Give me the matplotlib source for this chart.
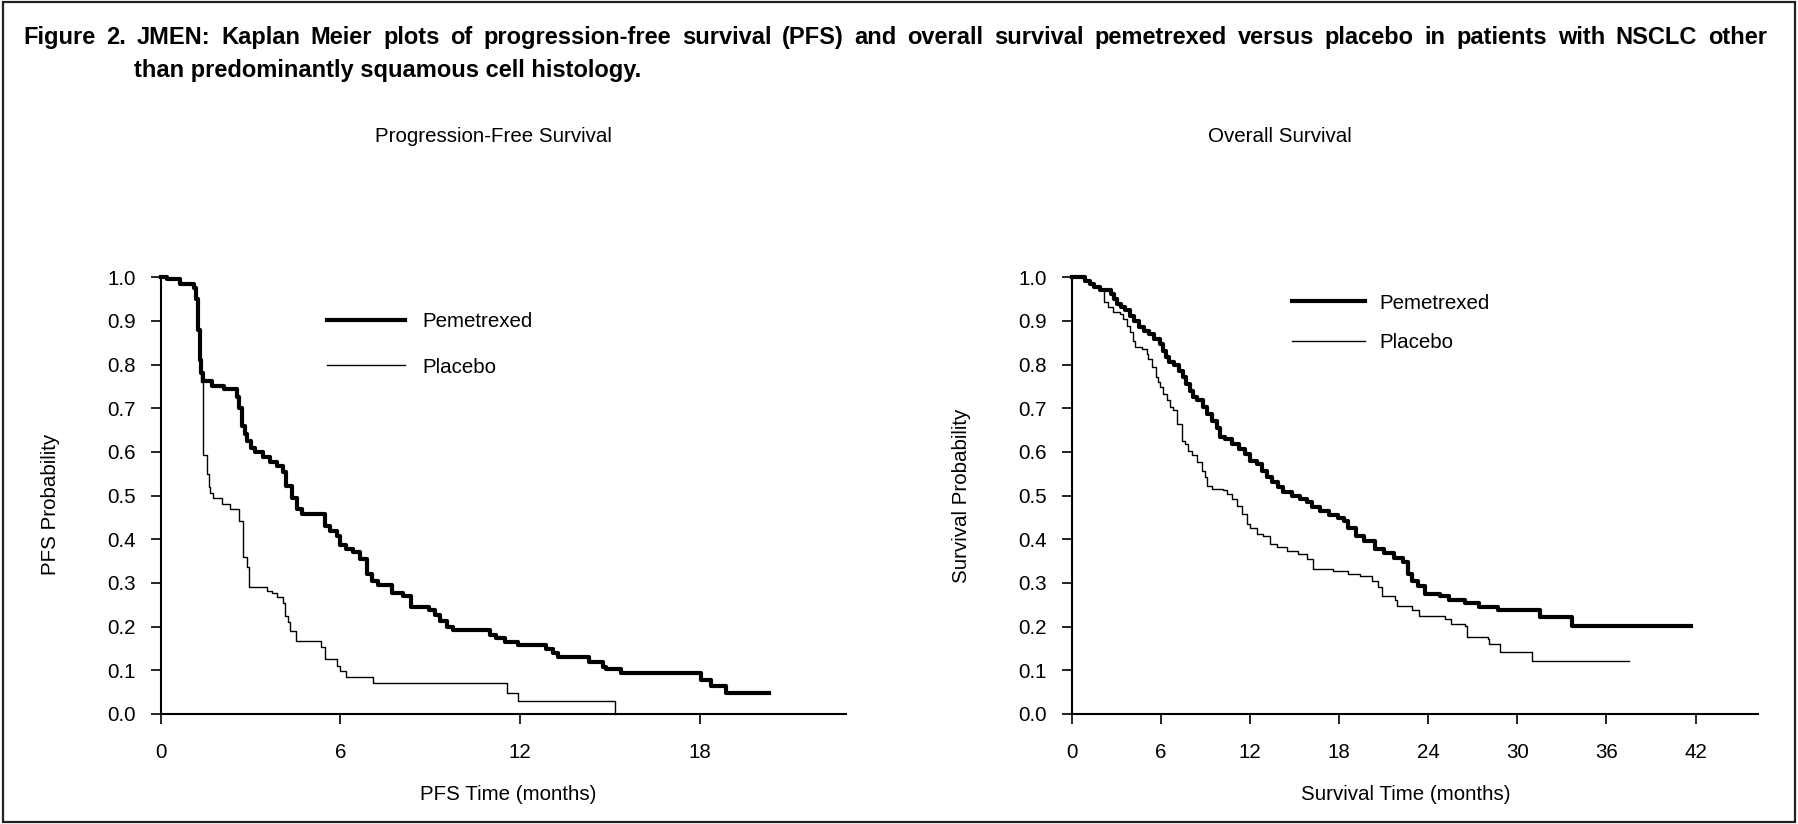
import matplotlib
matplotlib.use("Agg")
import matplotlib.pyplot as plt
from matplotlib.patches import Rectangle

plt.rcParams['font.family'] = ['Liberation Sans', 'DejaVu Sans']

# PFS (months, survival probability) - step changes
pfs_pem_t = [0, 0.2, 0.65, 1.1, 1.18, 1.25, 1.3, 1.35, 1.43, 1.7, 2.1, 2.55, 2.62, 2.7, 2.8,
             2.87, 3.0, 3.15, 3.43, 3.65, 3.87, 4.09, 4.2, 4.37, 4.54, 4.71, 5.48, 5.65, 5.87,
             5.98, 6.2, 6.43, 6.65, 6.87, 7.04, 7.26, 7.71, 8.1, 8.35, 8.95, 9.15, 9.32, 9.55,
             9.76, 10.98, 11.2, 11.48, 11.93, 12.85, 13.09, 13.26, 14.3, 14.76, 14.87, 15.37,
             18.04, 18.37, 18.87, 20.3]
pfs_pem_s = [1.0, 0.995, 0.985, 0.975, 0.95, 0.88, 0.81, 0.78, 0.763, 0.752, 0.744, 0.725, 0.7,
             0.66, 0.64, 0.626, 0.61, 0.6, 0.588, 0.576, 0.569, 0.553, 0.522, 0.494, 0.47, 0.457,
             0.431, 0.42, 0.408, 0.386, 0.378, 0.37, 0.355, 0.32, 0.305, 0.296, 0.278, 0.27,
             0.244, 0.237, 0.226, 0.214, 0.2, 0.192, 0.181, 0.174, 0.166, 0.158, 0.149, 0.14,
             0.13, 0.118, 0.107, 0.103, 0.094, 0.077, 0.064, 0.048, 0.048]

pfs_pbo_t = [0, 0.2, 0.65, 1.1, 1.18, 1.25, 1.3, 1.35, 1.43, 1.54, 1.6, 1.65, 1.76, 2.04, 2.32,
             2.63, 2.76, 2.89, 2.96, 3.54, 3.71, 3.87, 4.09, 4.15, 4.26, 4.32, 4.52, 5.34, 5.48,
             5.87, 5.98, 6.17, 7.09, 11.57, 11.93, 15.15]
pfs_pbo_s = [1.0, 0.995, 0.985, 0.975, 0.95, 0.88, 0.81, 0.76, 0.592, 0.55, 0.52, 0.505, 0.495,
             0.481, 0.469, 0.443, 0.36, 0.336, 0.29, 0.282, 0.276, 0.268, 0.255, 0.225, 0.21,
             0.191, 0.168, 0.153, 0.126, 0.111, 0.099, 0.084, 0.071, 0.048, 0.029, 0.0]

# Overall survival
os_pem_t = [0, 0.9, 1.2, 1.5, 1.9, 2.6, 2.8, 3.0, 3.3, 3.6, 3.9, 4.2, 4.5, 4.85, 5.2, 5.55, 5.9,
            6.15, 6.3, 6.55, 6.9, 7.2, 7.5, 7.7, 7.95, 8.15, 8.45, 8.8, 9.1, 9.45, 9.8, 10.0,
            10.3, 10.8, 11.25, 11.65, 12.0, 12.45, 12.8, 13.15, 13.5, 13.85, 14.2, 14.8, 15.35,
            15.8, 16.2, 16.7, 17.3, 17.9, 18.3, 18.6, 19.1, 19.7, 20.4, 21.0, 21.7, 22.3, 22.6,
            22.9, 23.3, 23.8, 24.8, 25.4, 26.5, 27.4, 28.7, 31.5, 33.7, 41.7]
os_pem_s = [1.0, 0.992, 0.985, 0.977, 0.971, 0.962, 0.95, 0.939, 0.931, 0.924, 0.912, 0.9, 0.885,
            0.878, 0.87, 0.859, 0.847, 0.832, 0.817, 0.805, 0.798, 0.786, 0.771, 0.756, 0.74,
            0.725, 0.718, 0.702, 0.687, 0.672, 0.656, 0.634, 0.63, 0.618, 0.607, 0.595, 0.58,
            0.573, 0.557, 0.542, 0.531, 0.519, 0.508, 0.5, 0.492, 0.485, 0.473, 0.464, 0.456,
            0.448, 0.442, 0.427, 0.408, 0.395, 0.378, 0.368, 0.357, 0.347, 0.321, 0.305, 0.294,
            0.275, 0.271, 0.262, 0.254, 0.244, 0.237, 0.223, 0.202, 0.202]

os_pbo_t = [0, 0.9, 1.2, 1.5, 1.9, 2.15, 2.45, 2.78, 3.23, 3.46, 3.68, 3.91, 4.13, 4.24, 4.69,
            5.03, 5.14, 5.37, 5.66, 5.81, 5.93, 6.15, 6.38, 6.6, 6.83, 7.05, 7.39, 7.61, 7.83,
            8.06, 8.4, 8.73, 8.96, 9.07, 9.41, 10.19, 10.42, 10.75, 11.09, 11.43, 11.76, 11.99,
            12.43, 12.89, 13.33, 13.78, 14.45, 15.24, 15.8, 16.25, 17.6, 18.6, 19.4, 20.2, 20.6,
            20.85, 21.75, 21.86, 22.9, 23.4, 25.1, 25.5, 26.5, 26.6, 28.0, 28.1, 28.8, 31.0, 37.5]
os_pbo_s = [1.0, 0.992, 0.985, 0.977, 0.971, 0.943, 0.931, 0.92, 0.916, 0.905, 0.889, 0.874,
            0.855, 0.84, 0.836, 0.824, 0.813, 0.794, 0.771, 0.76, 0.748, 0.733, 0.718, 0.702,
            0.695, 0.664, 0.626, 0.618, 0.603, 0.592, 0.576, 0.557, 0.542, 0.523, 0.515, 0.513,
            0.504, 0.492, 0.477, 0.458, 0.435, 0.427, 0.412, 0.408, 0.389, 0.382, 0.374, 0.366,
            0.355, 0.331, 0.328, 0.32, 0.316, 0.305, 0.29, 0.271, 0.26, 0.248, 0.237, 0.225,
            0.218, 0.206, 0.202, 0.176, 0.172, 0.16, 0.141, 0.122, 0.122]

prob_ticks = [0.0, 0.1, 0.2, 0.3, 0.4, 0.5, 0.6, 0.7, 0.8, 0.9, 1.0]
pfs_month_ticks = [0, 6, 12, 18]
os_month_ticks = [0, 6, 12, 18, 24, 30, 36, 42]

title_line1 = ("Figure 2. JMEN: Kaplan Meier plots of progression-free survival (PFS) and "
               "overall survival pemetrexed versus placebo in patients with NSCLC other")
title_line2 = "than predominantly squamous cell histology."

FS = 14.8
TFS = 17.0
W, H = 1798, 824

fig = plt.figure(figsize=(W / 100, H / 100), dpi=100)
fig.patch.set_facecolor('white')

# first title line is justified across the full width (word by word)
renderer = fig.canvas.get_renderer()
words = title_line1.split()
word_txt = [fig.text(0, 0.954, w, fontsize=TFS, fontweight='bold', ha='left', va='center')
            for w in words]
widths = [t.get_window_extent(renderer).width for t in word_txt]
gap = (1744 - sum(widths)) / (len(words) - 1)
xpos = 23.0
for t, wd in zip(word_txt, widths):
    t.set_x(xpos / W)
    xpos += wd + gap
fig.text(134 / W, 0.915, title_line2, fontsize=TFS, fontweight='bold', ha='left', va='center')

ax1 = fig.add_axes([0.0893, 0.1335, 0.381, 0.530])
ax2 = fig.add_axes([0.5962, 0.1335, 0.3815, 0.530])


def style_axes(ax, xticks, xmax):
    ax.set_xlim(0, xmax)
    ax.set_ylim(0, 1.0)
    ax.spines['top'].set_visible(False)
    ax.spines['right'].set_visible(False)
    ax.spines['left'].set_linewidth(1.5)
    ax.spines['bottom'].set_linewidth(1.5)
    ax.set_xticks(xticks)
    ax.set_yticks(prob_ticks)
    ax.set_yticklabels([f"{v:.1f}" for v in prob_ticks])
    ax.tick_params(axis='y', direction='out', length=7, width=1.2, pad=11, labelsize=FS)
    ax.tick_params(axis='x', direction='out', length=7, width=1.2, pad=14, labelsize=FS)


# left: PFS
l1, = ax1.step(pfs_pem_t, pfs_pem_s, where='post', color='black', lw=3.0,
               clip_on=False, label='Pemetrexed', zorder=3)
l2, = ax1.step(pfs_pbo_t, pfs_pbo_s, where='post', color='black', lw=1.0,
               clip_on=False, label='Placebo', zorder=2)
style_axes(ax1, pfs_month_ticks, 22.85)
ax1.set_ylabel('PFS Probability', fontsize=FS)
ax1.yaxis.set_label_coords(-0.1466, 0.479)
ax1.set_xlabel('PFS Time (months)', fontsize=FS)
ax1.xaxis.set_label_coords(0.508, -0.163)
ax1.text(0.4865, 1.323, 'Progression-Free Survival', transform=ax1.transAxes,
         ha='center', va='center', fontsize=FS)
ax1.legend(handles=[l1, l2], loc='center left', bbox_to_anchor=(0.243, 0.846),
           frameon=False, fontsize=FS, handlelength=3.8, handletextpad=0.83,
           labelspacing=1.27, borderpad=0, borderaxespad=0)

# right: OS
r1, = ax2.step(os_pem_t, os_pem_s, where='post', color='black', lw=3.0,
               clip_on=False, label='Pemetrexed', zorder=3)
r2, = ax2.step(os_pbo_t, os_pbo_s, where='post', color='black', lw=1.0,
               clip_on=False, label='Placebo', zorder=2)
style_axes(ax2, os_month_ticks, 46.2)
ax2.set_ylabel('Survival Probability', fontsize=FS)
ax2.yaxis.set_label_coords(-0.147, 0.50)
ax2.set_xlabel('Survival Time (months)', fontsize=FS)
ax2.xaxis.set_label_coords(0.487, -0.163)
ax2.text(0.303, 1.323, 'Overall Survival', transform=ax2.transAxes,
         ha='center', va='center', fontsize=FS)
ax2.legend(handles=[r1, r2], loc='center left', bbox_to_anchor=(0.321, 0.896),
           frameon=False, fontsize=FS, handlelength=3.55, handletextpad=0.68,
           labelspacing=0.98, borderpad=0, borderaxespad=0)

# outer frame
fig.add_artist(Rectangle((0.0015, 0.002), 0.997, 0.9955, transform=fig.transFigure,
                         fill=False, edgecolor='#222222', lw=1.6))

fig.savefig('out.png', dpi=100)
